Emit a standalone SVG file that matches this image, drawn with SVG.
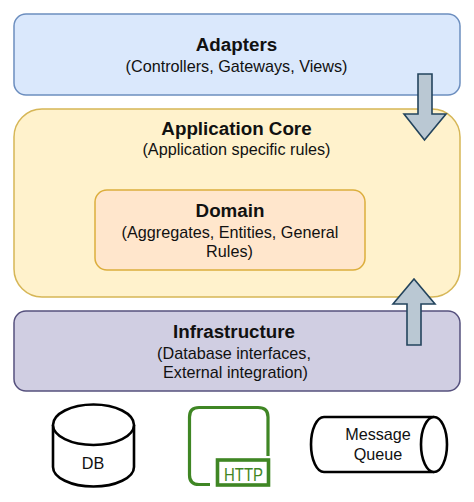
<svg xmlns="http://www.w3.org/2000/svg" width="474" height="502" viewBox="0 0 474 502">
<style>
text{font-family:"Liberation Sans",Arial,sans-serif;text-anchor:middle;fill:#111}
.t{font-size:18.800px;font-weight:bold}
.s{font-size:16.200px}
.b{stroke-width:1.500}
.a{fill:#bac8d3;stroke:#23445d;stroke-width:1.600}
.k{fill:#fff;stroke:#000;stroke-width:2.600}
</style>
<rect width="474" height="502" fill="#fff"/>
<g id="adapters">
<rect class="b" x="14" y="14" width="446" height="81" rx="12" fill="#dae8fc" stroke="#6c8ebf"/>
<text class="t" x="236.500" y="51">Adapters</text>
<text class="s" x="236.500" y="72">(Controllers, Gateways, Views)</text>
</g>
<g id="core">
<rect class="b" x="14" y="109" width="446" height="188" rx="28" fill="#fff2cc" stroke="#d6b656"/>
<text class="t" x="236.500" y="135">Application Core</text>
<text class="s" x="236.500" y="155">(Application specific rules)</text>
</g>
<g id="domain">
<rect class="b" x="95" y="190" width="270" height="80" rx="12" fill="#ffe6cc" stroke="#dcae3c"/>
<text class="t" x="230" y="217">Domain</text>
<text class="s" x="230" y="238">(Aggregates, Entities, General</text>
<text class="s" x="229.500" y="257">Rules)</text>
</g>
<g id="infrastructure">
<rect class="b" x="14" y="311" width="446" height="80" rx="12" fill="#d0cee2" stroke="#56517e"/>
<text class="t" x="234" y="338">Infrastructure</text>
<text class="s" x="234" y="359">(Database interfaces,</text>
<text class="s" x="235.500" y="378">External integration)</text>
</g>
<g id="connectors">
<polygon class="a" points="418,74 432,74 432,114 446,114 424.500,140 404,114 418,114"/>
<polygon class="a" points="407,345 421,345 421,304 435,304 414,279 393,304 407,304"/>
</g>
<g id="db">
<path class="k" d="M53 425A40.500 20.500 0 0 1 134 425V467A40.500 19.500 0 0 1 53 467Z"/>
<path class="k" fill="none" d="M53 425A40.500 20 0 0 0 134 425"/>
<text class="s" x="93" y="469">DB</text>
</g>
<g id="http">
<path d="M210 484.500H199Q189.500 484.500 189.500 475V417Q189.500 407.500 199 407.500H258Q268 407.500 268 417V456" fill="none" stroke="#3f8624" stroke-width="3.200"/>
<rect x="217.500" y="460" width="51" height="25" fill="#fff" stroke="#3f8624" stroke-width="3.600"/>
<text x="243.500" y="480.500" textLength="39" lengthAdjust="spacingAndGlyphs" style="font-size:18.500px;fill:#3f8624">HTTP</text>
</g>
<g id="queue">
<path class="k" d="M434 417H324A13 27.500 0 0 0 324 472H434"/>
<ellipse class="k" cx="434" cy="444.500" rx="13" ry="27.500"/>
<text class="s" x="378" y="440">Message</text>
<text class="s" x="378" y="460">Queue</text>
</g>
</svg>
